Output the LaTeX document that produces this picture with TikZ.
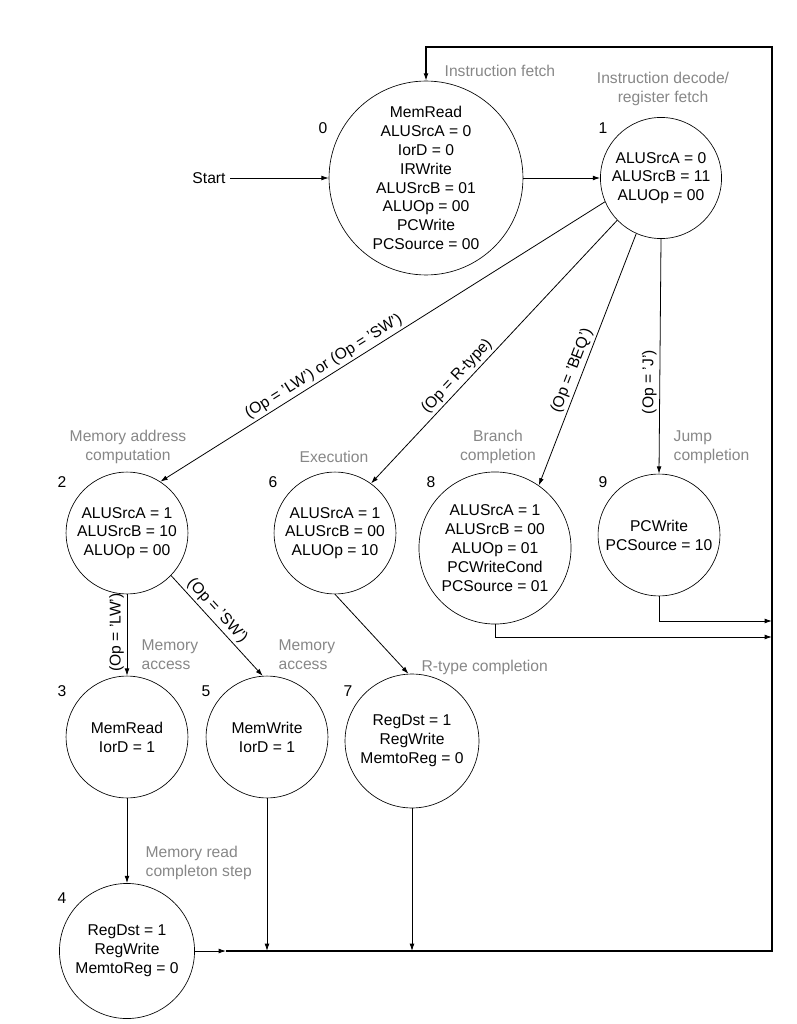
\documentclass[tikz,border=0pt]{standalone}
\usepackage{fontspec}
\setmainfont{Liberation Sans}
\usepackage{tikz}
\usetikzlibrary{arrows.meta,positioning}
\definecolor{notegray}{RGB}{135,135,135}

\begin{document}
\begin{tikzpicture}[x=0.0265cm,y=-0.0265cm]
  \tikzset{every node/.style={font=\fontsize{11.8}{14.2}\selectfont},
    fsm circle/.style={draw,circle,inner sep=0pt,align=center,line width=0.5pt,minimum size=#1},
    note/.style={text=notegray,align=center},
    trans/.style={-{Latex[length=5.5pt,width=3.6pt]},line width=0.6pt},
    cond/.style={sloped,above,inner sep=2pt},
    upcond/.style={anchor=south,rotate=90,inner sep=2pt}}
  \useasboundingbox (0,0) rectangle (796,1024);

  \node (s0) [fsm circle=5.14cm] at (426,178) {MemRead\\ALUSrcA = 0\\IorD = 0\\IRWrite\\ALUSrcB = 01\\ALUOp = 00\\PCWrite\\PCSource = 00};
  \node (s1) [fsm circle=3.21cm] at (661,178) {ALUSrcA = 0\\ALUSrcB = 11\\ALUOp = 00};
  \node (s2) [fsm circle=3.23cm] at (127,533) {ALUSrcA = 1\\ALUSrcB = 10\\ALUOp = 00};
  \node (s6) [fsm circle=3.23cm] at (335,533) {ALUSrcA = 1\\ALUSrcB = 00\\ALUOp = 10};
  \node (s8) [fsm circle=4.03cm] at (495,548) {ALUSrcA = 1\\ALUSrcB = 00\\ALUOp = 01\\PCWriteCond\\PCSource = 01};
  \node (s9) [fsm circle=3.23cm] at (659,535) {PCWrite\\PCSource = 10};
  \node (s3) [fsm circle=3.23cm] at (127,737) {MemRead\\IorD = 1};
  \node (s5) [fsm circle=3.23cm] at (267,737) {MemWrite\\IorD = 1};
  \node (s7) [fsm circle=3.55cm] at (412,741) {RegDst = 1\\RegWrite\\MemtoReg = 0};
  \node (s4) [fsm circle=3.58cm] at (127,951) {RegDst = 1\\RegWrite\\MemtoReg = 0};

  \node (n0) at (323,128) {0};
  \node (n1) at (603,128) {1};
  \node (n2) at (62,482) {2};
  \node (n6) at (273,482) {6};
  \node (n8) at (431,482) {8};
  \node (n9) at (603,482) {9};
  \node (n3) at (62,691) {3};
  \node (n5) at (206,691) {5};
  \node (n7) at (348,691) {7};
  \node (n4) at (62,898) {4};

  \node (fetch) [note,anchor=west] at (440,71) {Instruction fetch};
  \node (decode) [note] at (663,89) {Instruction decode/\\register fetch};
  \node (addr) [note] at (128,447) {Memory address\\computation};
  \node (exec) [note] at (334,457) {Execution};
  \node (branch) [note] at (498,447) {Branch\\completion};
  \node (jump) [note,align=left,anchor=west] at (669,447) {Jump\\completion};
  \node (acc1) [note,align=left,anchor=west] at (137,655) {Memory\\access};
  \node (acc2) [note,align=left,anchor=west] at (274,655) {Memory\\access};
  \node (rdone) [note,anchor=west] at (417,667) {R-type completion};
  \node (mdone) [note,align=left,anchor=west] at (141,863) {Memory read\\completon step};

  \node (start) at (209,178) {Start};
  \draw[trans] (start.east) -- (s0.west);
  \draw[trans] (s0.east) -- (s1.west);

  \draw[trans] (s1.203) -- node[cond,pos=0.62] {(Op = 'LW') or (Op = 'SW')} (s2.57);
  \draw[trans] (s1.224) -- node[cond,pos=0.62] {(Op = R-type)} (s6.54);
  \draw[trans] (s1.246) -- node[cond,pos=0.56] {(Op = 'BEQ')} (s8.55);
  \draw[trans] (s1.south) -- node[upcond,pos=0.61] {(Op = 'J')} (s9.north);
  \draw[trans] (s2.south) -- node[upcond,pos=0.47] {(Op = 'LW')} (s3.north);
  \draw[trans] (s2.316) -- node[cond,pos=0.42] {(Op = 'SW')} (s5.94);
  \draw[trans] (s6.south) -- (s7.93);
  \draw[trans] (s3.south) -- (s4.north);

  % back to state 0
  \coordinate (fb) at (772,951);
  \coordinate (ft) at (772,47);
  \coordinate (m4) at (226,951);
  \coordinate (j9) at (772,621);
  \coordinate (j8) at (772,637);
  \draw[trans] (s5.south) -- (s5.south |- fb);
  \draw[trans] (s7.south) -- (s7.south |- fb);
  \draw[trans] (s9.south) |- (j9);
  \draw[trans] (s8.south) |- (j8);
  \draw[trans] (s4.east) -- (m4);
  \draw[trans,line width=0.8pt] (m4) -- (fb) -- (ft) -- (s0.north |- ft) -- (s0.north);
\end{tikzpicture}
\end{document}
